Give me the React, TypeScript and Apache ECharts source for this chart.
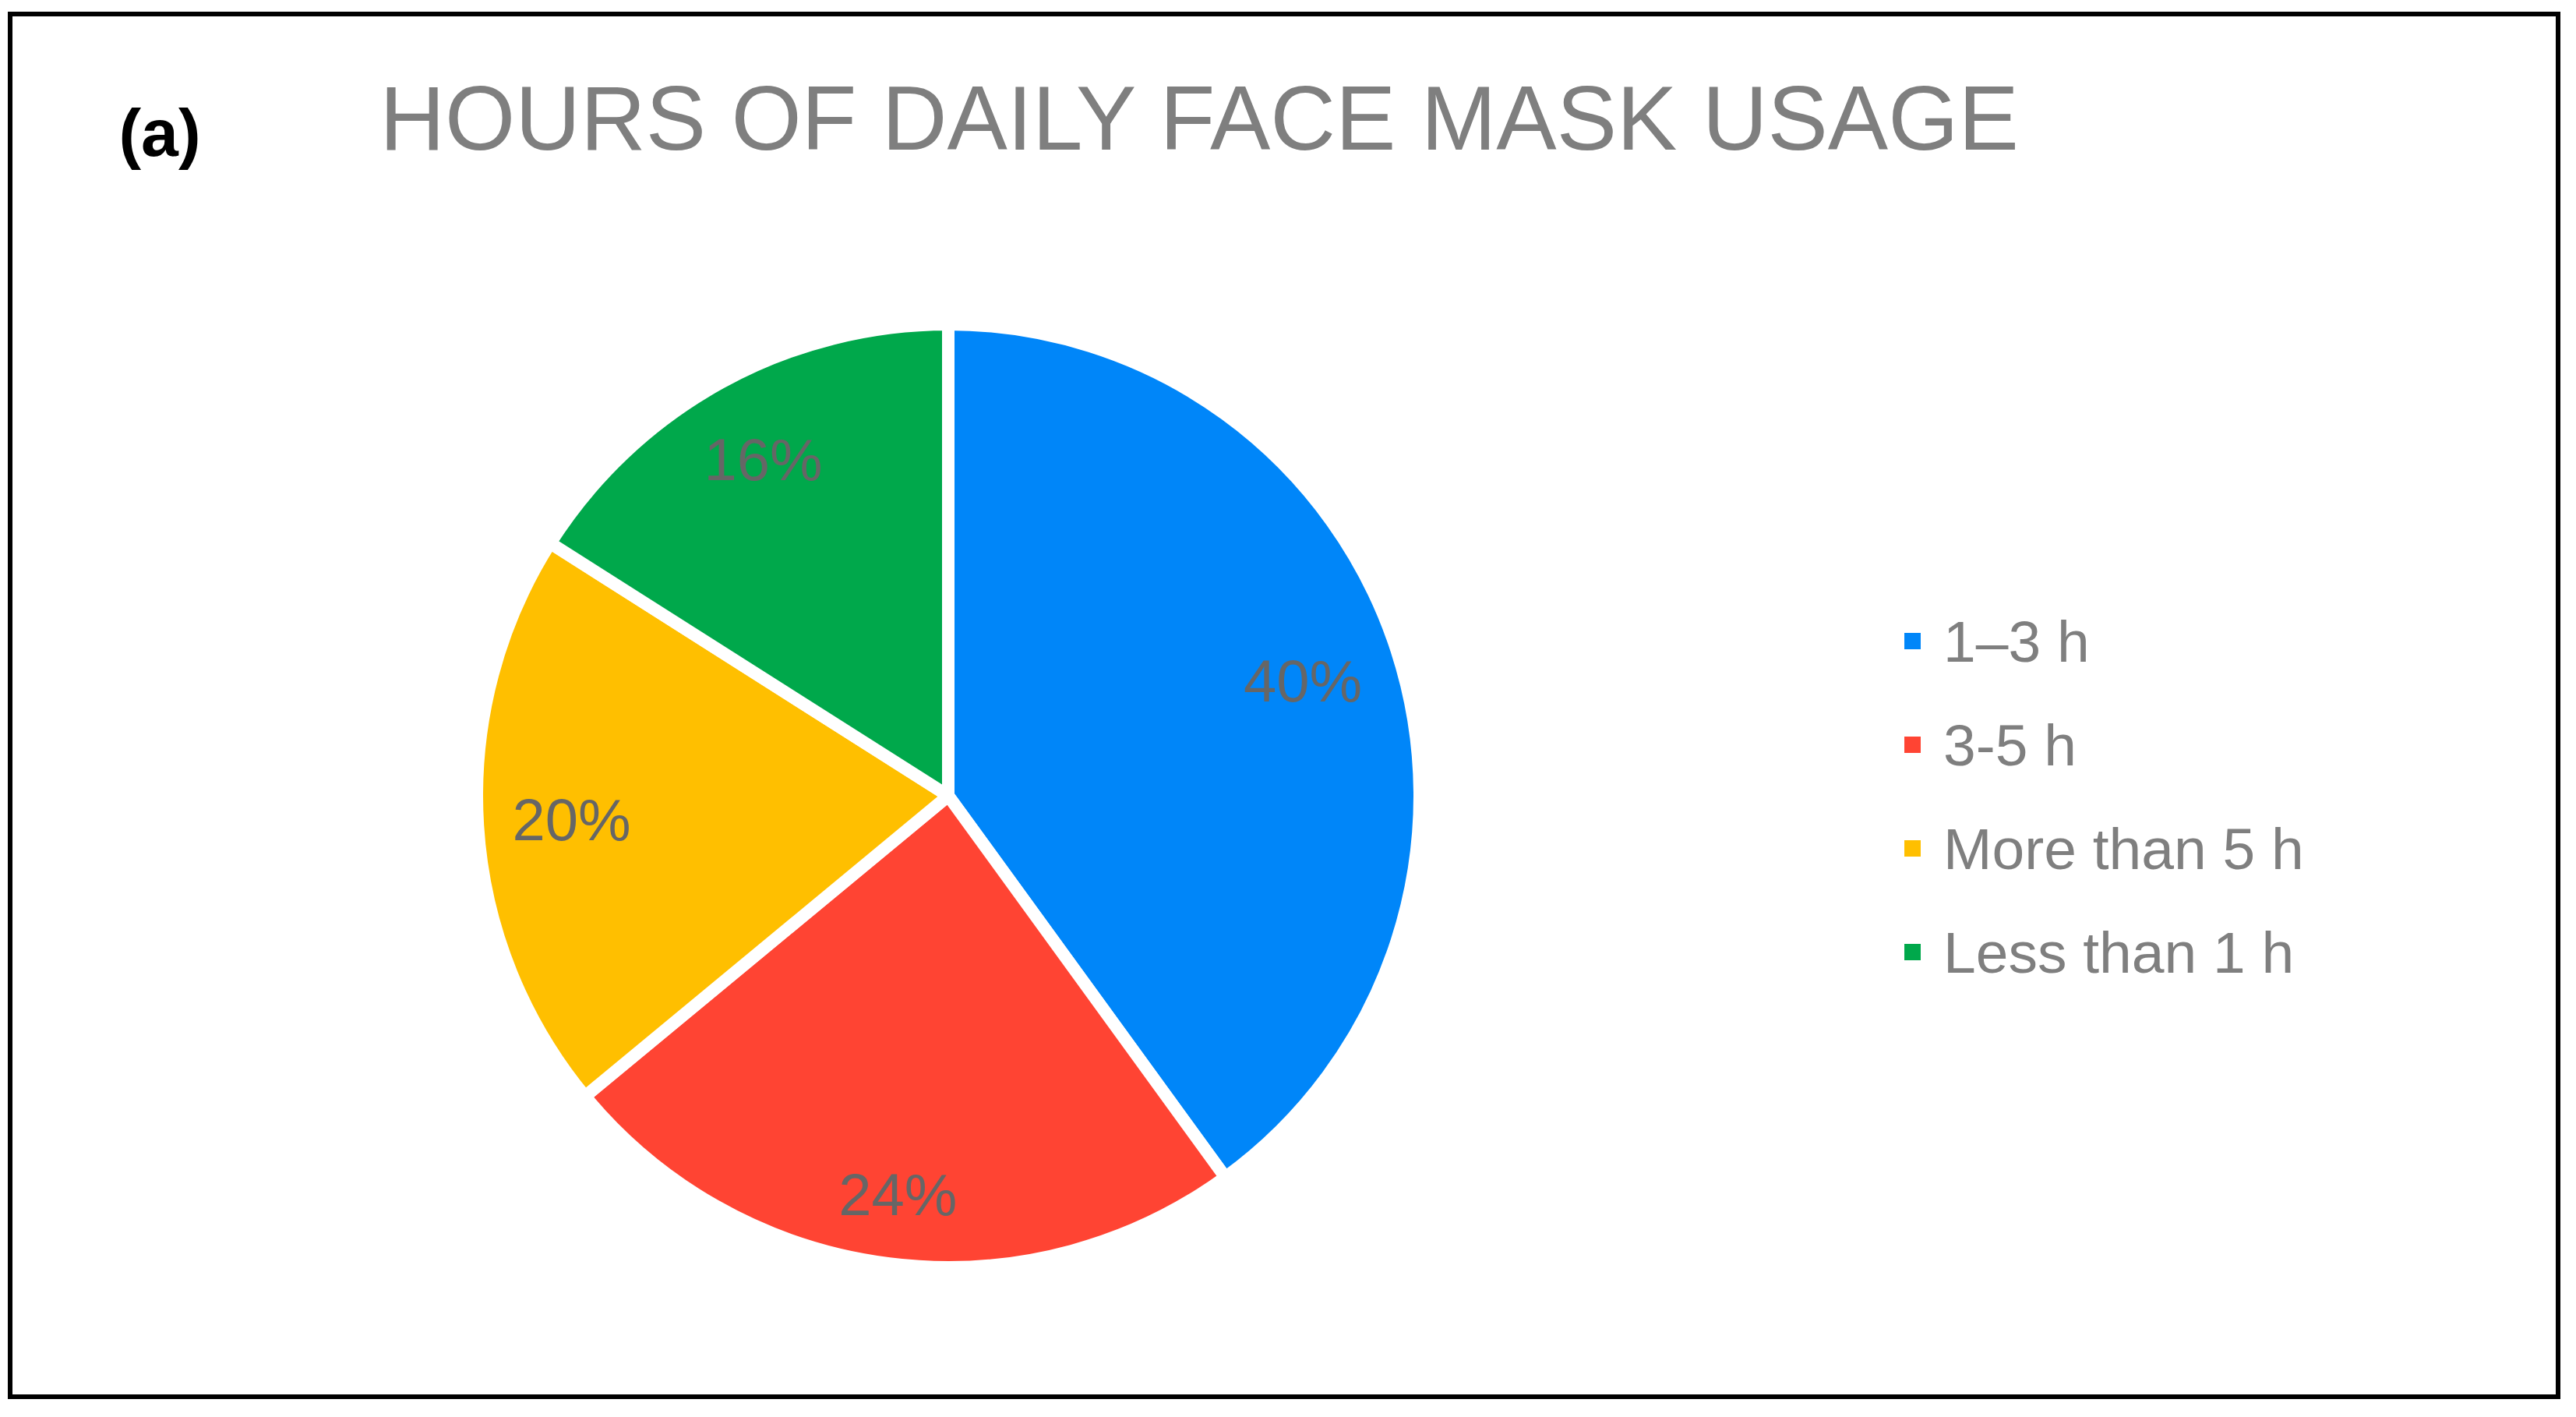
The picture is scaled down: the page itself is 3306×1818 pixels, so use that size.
import React, { useEffect, useRef } from "react";
import * as echarts from "echarts";

const categories = ["1–3 h", "3-5 h", "More than 5 h", "Less than 1 h"];
const values = [40, 24, 20, 16];
const colors = ["#0086F9", "#FF4433", "#FFBF00", "#00A84B"];
const titleText = "HOURS OF DAILY FACE MASK USAGE";
const panelLabel = "(a)";

const FONT = "'Liberation Sans', Arial, sans-serif";
const CX = 1217;
const CY = 1021;
const R = 605;

export default function App() {
  const ref = useRef<HTMLDivElement>(null);
  useEffect(() => {
    if (!ref.current) return;
    const chart = echarts.init(ref.current, null, { renderer: "svg" });
    const total = values.reduce((a, b) => a + b, 0);
    const midAngles: number[] = [];
    let acc = 0;
    values.forEach((v) => {
      midAngles.push(((acc + v / 2) / total) * Math.PI * 2);
      acc += v;
    });
    const data = categories.map((name, i) => ({
      name,
      value: values[i],
      itemStyle: { color: colors[i] },
    }));
    chart.setOption({
      animation: false,
      backgroundColor: "#ffffff",
      title: {
        text: titleText,
        left: 1534,
        top: 89,
        textAlign: "center",
        textStyle: {
          fontFamily: FONT,
          fontSize: 116,
          fontWeight: "normal",
          color: "#7F7F7F",
        },
      },
      legend: {
        orient: "vertical",
        left: 2437,
        top: 780,
        itemWidth: 23,
        itemHeight: 23,
        itemGap: 58,
        icon: "rect",
        selectedMode: false,
        data: categories.map((name, i) => ({ name, itemStyle: { color: colors[i] } })),
        textStyle: {
          fontFamily: FONT,
          fontSize: 75,
          lineHeight: 75,
          color: "#7F7F7F",
          padding: [0, 0, 0, 23],
        },
      },
      graphic: [
        {
          type: "rect",
          shape: { x: 13, y: 18, width: 3270, height: 1774 },
          style: { fill: "none", stroke: "#000000", lineWidth: 6 },
          silent: true,
        },
        {
          type: "text",
          x: 205,
          y: 170,
          style: {
            text: panelLabel,
            font: `bold 86px ${FONT}`,
            fill: "#000000",
            textAlign: "center",
            textVerticalAlign: "middle",
          },
        },
      ],
      series: [
        {
          type: "pie",
          center: [CX, CY],
          radius: [0, R],
          startAngle: 90,
          clockwise: true,
          silent: true,
          labelLine: { show: false },
          itemStyle: { borderColor: "#ffffff", borderWidth: 16 },
          label: {
            show: true,
            position: "inside",
            formatter: "{c}%",
            fontFamily: FONT,
            fontSize: 76,
            color: "#666666",
          },
          labelLayout: (params: any) => {
            const rect = params.labelRect;
            const th = midAngles[params.dataIndex];
            const s = Math.sin(th);
            const c = Math.cos(th);
            const proj = (rect.width / 2) * Math.abs(s) + (rect.height / 2) * Math.abs(c);
            const d = R * 0.93 - proj;
            const tx = CX + d * s;
            const ty = CY - d * c;
            return {
              dx: tx - (rect.x + rect.width / 2),
              dy: ty - (rect.y + rect.height / 2),
            };
          },
          data,
        },
      ],
    });
    return () => chart.dispose();
  }, []);
  return (
    <div
      ref={ref}
      style={{ position: "fixed", left: 0, top: 0, width: 3306, height: 1818 }}
    />
  );
}
